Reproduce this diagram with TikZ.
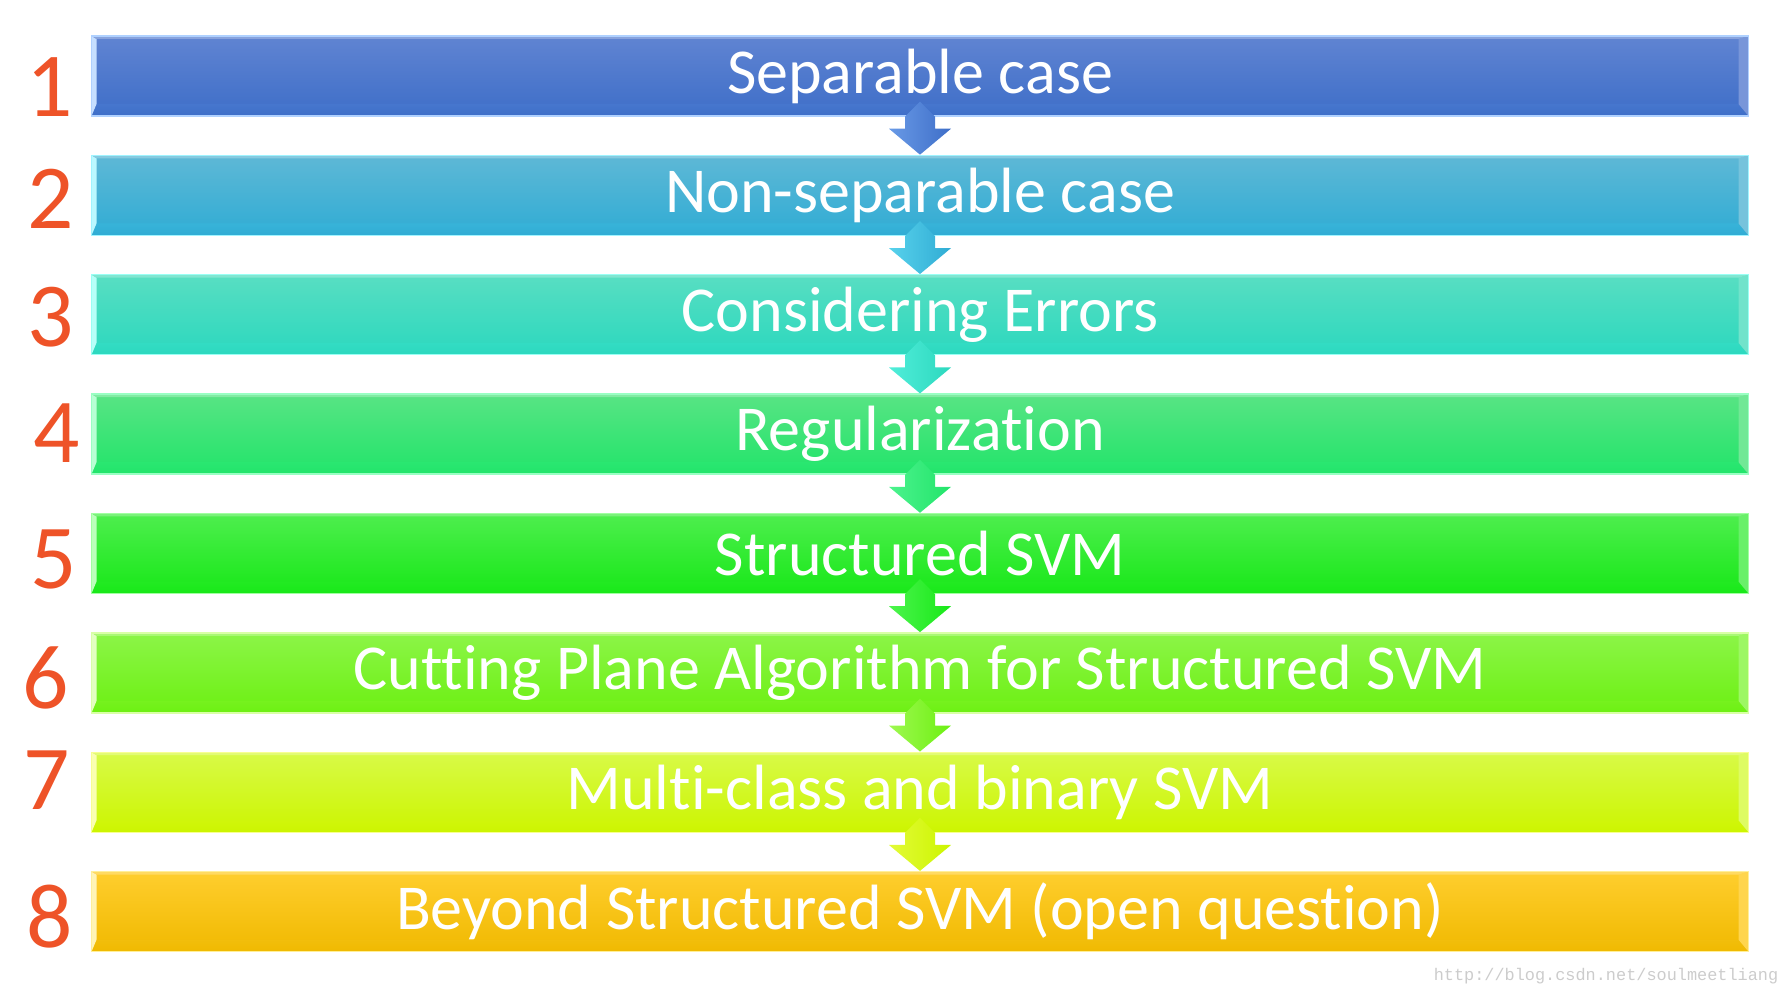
\documentclass[tikz,border=0pt]{standalone}
\usepackage{fontspec}
\setmainfont{Carlito}[Ligatures={NoCommon}]
\newfontfamily\markfont{Liberation Mono}
\usetikzlibrary{positioning,calc}

\definecolor{RoyalTop}{RGB}{96, 132, 210}
\definecolor{RoyalBot}{RGB}{62, 110, 200}
\definecolor{RoyalHi}{RGB}{140, 190, 255}
\definecolor{SkyTop}{RGB}{94, 184, 214}
\definecolor{SkyBot}{RGB}{48, 172, 212}
\definecolor{SkyHi}{RGB}{120, 240, 255}
\definecolor{TealTop}{RGB}{88, 222, 194}
\definecolor{TealBot}{RGB}{44, 216, 190}
\definecolor{TealHi}{RGB}{110, 255, 240}
\definecolor{MintTop}{RGB}{88, 228, 132}
\definecolor{MintBot}{RGB}{34, 228, 106}
\definecolor{MintHi}{RGB}{110, 255, 170}
\definecolor{GreenTop}{RGB}{78, 238, 78}
\definecolor{GreenBot}{RGB}{24, 232, 24}
\definecolor{GreenHi}{RGB}{120, 255, 120}
\definecolor{LimeTop}{RGB}{140, 245, 72}
\definecolor{LimeBot}{RGB}{108, 240, 18}
\definecolor{LimeHi}{RGB}{200, 255, 130}
\definecolor{ChartTop}{RGB}{216, 250, 72}
\definecolor{ChartBot}{RGB}{204, 245, 0}
\definecolor{ChartHi}{RGB}{245, 255, 100}
\definecolor{AmberTop}{RGB}{255, 206, 46}
\definecolor{AmberBot}{RGB}{240, 185, 0}
\definecolor{AmberHi}{RGB}{255, 232, 110}
\definecolor{InkRed}{RGB}{238, 83, 40}

% arrow between two bars: from, to, colour
\newcommand{\flowstep}[3]{%
  \coordinate (fs) at (#1.south);
  \shade[left color=#3Hi!55!#3Bot, right color=#3Bot]
    ($(fs)+(0,15)$) -- ($(fs)+(-15,0)$) -- ($(fs)+(-15,-12)$) -- ($(fs)+(-31,-12)$)
    -- (#2.north) -- ($(fs)+(31,-12)$) -- ($(fs)+(15,-12)$) -- ($(fs)+(15,0)$) -- cycle;}

\begin{document}
\begin{tikzpicture}[x=0.01cm, y=0.01cm,
    bar/.style={draw=#1Hi!70!white, line width=0.4pt, minimum width=16.56cm, minimum height=0.8cm,
        inner sep=0pt, top color=#1Top, bottom color=#1Bot, text=white, font=\fontsize{18.2}{20}\selectfont,
        path picture={
            % bevel edges
            \shade[top color=#1Bot!30!#1Hi, middle color=#1Hi!60!white, bottom color=#1Bot]
                (path picture bounding box.south west) -- (path picture bounding box.south east)
                -- ++(-10,12) -- ($(path picture bounding box.south west)+(5,12)$) -- cycle;
            \fill[#1Hi!50!white] (path picture bounding box.south west) -- (path picture bounding box.north west)
                -- ++(5,-3) -- ($(path picture bounding box.south west)+(5,12)$) -- cycle;
            \fill[#1Top!85!white] (path picture bounding box.south east) -- (path picture bounding box.north east)
                -- ++(-10,-3) -- ($(path picture bounding box.south east)+(-10,12)$) -- cycle;
            \fill[#1Top!75!white] (path picture bounding box.north west) -- (path picture bounding box.north east)
                -- ++(-10,-3) -- ($(path picture bounding box.north west)+(5,-3)$) -- cycle;
        }},
    digit/.style={text=InkRed, font=\fontsize{26}{28}\selectfont, inner sep=0pt}
  ]
  \useasboundingbox (0,0) rectangle (1788,996);

  % Bars
  \node[bar=Royal] (bar1) at (920,920) {\raisebox{-1.5pt}{Separable case}};
  \node[bar=Sky, below=0.379cm of bar1] (bar2) {\raisebox{-1.5pt}{Non-separable case}};
  \node[bar=Teal, below=0.379cm of bar2] (bar3) {\raisebox{-1.5pt}{Considering Errors}};
  \node[bar=Mint, below=0.379cm of bar3] (bar4) {\raisebox{-1.5pt}{Regularization}};
  \node[bar=Green, below=0.379cm of bar4] (bar5) {\raisebox{-1.5pt}{Structured SVM}};
  \node[bar=Lime, below=0.379cm of bar5] (bar6) {\raisebox{-1.5pt}{Cutting Plane Algorithm for Structured SVM}};
  \node[bar=Chart, below=0.379cm of bar6] (bar7) {\raisebox{-1.5pt}{Multi-class and binary SVM}};
  \node[bar=Amber, below=0.379cm of bar7] (bar8) {\raisebox{-1.5pt}{Beyond Structured SVM (open question)}};

  % Arrows
  \flowstep{bar1}{bar2}{Royal}
  \flowstep{bar2}{bar3}{Sky}
  \flowstep{bar3}{bar4}{Teal}
  \flowstep{bar4}{bar5}{Mint}
  \flowstep{bar5}{bar6}{Green}
  \flowstep{bar6}{bar7}{Lime}
  \flowstep{bar7}{bar8}{Chart}

  % Step numbers
  \node[digit] (num1) at (50,909) {1};
  \node[digit] (num2) at (51,797) {2};
  \node[digit] (num3) at (51,679) {3};
  \node[digit] (num4) at (57,563) {4};
  \node[digit] (num5) at (54,437) {5};
  \node[digit] (num6) at (46,318) {6};
  \node[digit] (num7) at (47,216) {7};
  \node[digit] (num8) at (50,79) {8};

  % Watermark
  \node[text=gray!40, font=\markfont\fontsize{4.8}{5}\selectfont, inner sep=0pt] (mark) at (1606,20) {http://blog.csdn.net/soulmeetliang};
\end{tikzpicture}
\end{document}
